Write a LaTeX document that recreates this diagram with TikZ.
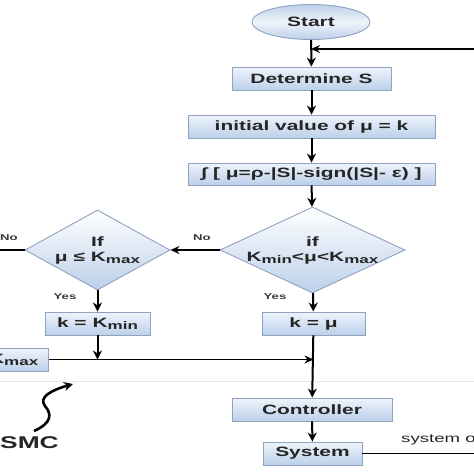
\documentclass[tikz,border=0pt]{standalone}
\usepackage{fontspec}
\setmainfont{Liberation Sans}
\newfontfamily\wide[FakeStretch=1.55]{Liberation Sans}
\usetikzlibrary{shapes.geometric,arrows.meta}
\definecolor{boxedge}{HTML}{8FA3BF}
\definecolor{boxtop}{HTML}{EEF4FB}
\definecolor{boxbot}{HTML}{BCD0EA}
\definecolor{textc}{HTML}{262626}
\definecolor{lblc}{HTML}{3A3A3A}
\newcommand{\sbs}[1]{\raisebox{-0.35ex}{\fontsize{11}{12}\selectfont #1}}
\begin{document}
\begin{tikzpicture}[x=1pt,y=-1pt,
  box/.style={draw=boxedge, line width=0.9pt, top color=boxtop, bottom color=boxbot,
    minimum height=23pt, inner sep=0pt, text=textc,
    font=\wide\bfseries\fontsize{13.5}{15}\selectfont},
  decision/.style={diamond, draw=boxedge, line width=0.9pt, top color=white, bottom color=boxbot,
    inner sep=0pt, align=center, text=textc,
    font=\wide\bfseries\fontsize{13.5}{15}\selectfont},
  arr/.style={line width=2pt, -{Stealth[length=9pt,width=9pt]}},
  harr/.style={line width=1.5pt, -{Stealth[length=9pt,width=8pt,inset=3pt]}},
  plain/.style={line width=1.5pt},
  lbl/.style={font=\wide\bfseries\fontsize{8.5}{10}\selectfont, text=lblc}
]
\useasboundingbox (0,0) rectangle (474,474);
\clip (0,0) rectangle (474,474);
\fill[white] (0,0) rectangle (474,474);

% faint separator
\draw[gray!18, line width=0.8pt] (0,381) -- (474,381);

% nodes
\node[ellipse, draw=boxedge, line width=0.9pt, top color=boxbot, bottom color=boxbot, middle color=boxtop,
  minimum width=118pt, minimum height=35pt, inner sep=0pt, text=textc,
  font=\wide\bfseries\fontsize{13.5}{15}\selectfont] (start) at (311,22) {Start};
\node[box, minimum width=159pt] (det) at (311.5,78.5) {Determine S};
\node[box, minimum width=247pt] (init) at (311.5,126.5) {initial value of μ = k};
\node[box, minimum width=247pt, minimum height=22pt] (integ) at (311.5,174) {∫ [ μ=ρ-|S|-sign(|S|- ε) ]};
\node[decision, minimum width=185pt, minimum height=86pt] (d1) at (312.5,250)
  {\makebox[0pt]{if}\\[0pt]\makebox[0pt]{K\sbs{min}<μ<K\sbs{max}}};
\node[decision, minimum width=145pt, minimum height=80pt] (d2) at (97.5,250)
  {\makebox[0pt]{If}\\[0pt]\makebox[0pt]{μ ≤ K\sbs{max}}};
\node[box, minimum width=105pt] (kmin) at (97.5,323.5) {k = K\sbs{min}};
\node[box, minimum width=103pt] (kmu) at (313.5,323.5) {k = μ};
\node[box, minimum width=105pt] (kmax) at (-4,359.5) {k = K\sbs{max}};
\node[box, minimum width=160pt] (ctrl) at (312,409.5) {Controller};
\node[box, minimum width=99pt] (sys) at (312.5,453.5) {System};

\node[font=\wide\bfseries\fontsize{17}{19}\selectfont, text=textc, anchor=west, inner sep=0pt] (smc) at (0,443) {SMC};
\node[font=\wide\fontsize{12}{13}\selectfont, text=textc, anchor=west, inner sep=0pt] (sout) at (401,440) {system output};

% coordinates
\coordinate (fbR) at (474,49);
\coordinate (noL) at (0,250);
\coordinate (sysR) at (474,453.5);
\coordinate (j1) at (kmin.south |- kmax.east);
\coordinate (j2) at (kmu.south |- kmax.east);

% connectors
\draw[arr] (start) -- (det);
\draw[harr] (fbR) -- (start.south |- fbR);
\draw[arr] (det) -- (init);
\draw[arr] (init) -- (integ);
\draw[arr] (integ) -- (d1);
\draw[arr] (d1) -- (kmu);
\draw[harr] (d1.west) -- (d2.east);
\draw[plain] (d2.west) -- (noL);
\draw[arr] (d2) -- (kmin);
\draw[arr] (kmin) -- (j1);
\draw[harr] (kmax.east) -- (j2);
\draw[arr] (kmu) -- (ctrl);
\draw[arr] (ctrl) -- (sys);
\draw[plain] (sys.east) -- (sysR);

% labels
\node[lbl] (no1) at (202,238) {No};
\node[lbl] (no2) at (9,238) {No};
\node[lbl] (yes1) at (65,297) {Yes};
\node[lbl] (yes2) at (275,297) {Yes};

% wavy arrow
\draw[line width=2.6pt, -{Stealth[length=9pt,width=9pt]}]
  (34,431) .. controls (52,423) and (52,414) .. (45,406)
  .. controls (38,397) and (52,390) .. (73,384);
\end{tikzpicture}
\end{document}
